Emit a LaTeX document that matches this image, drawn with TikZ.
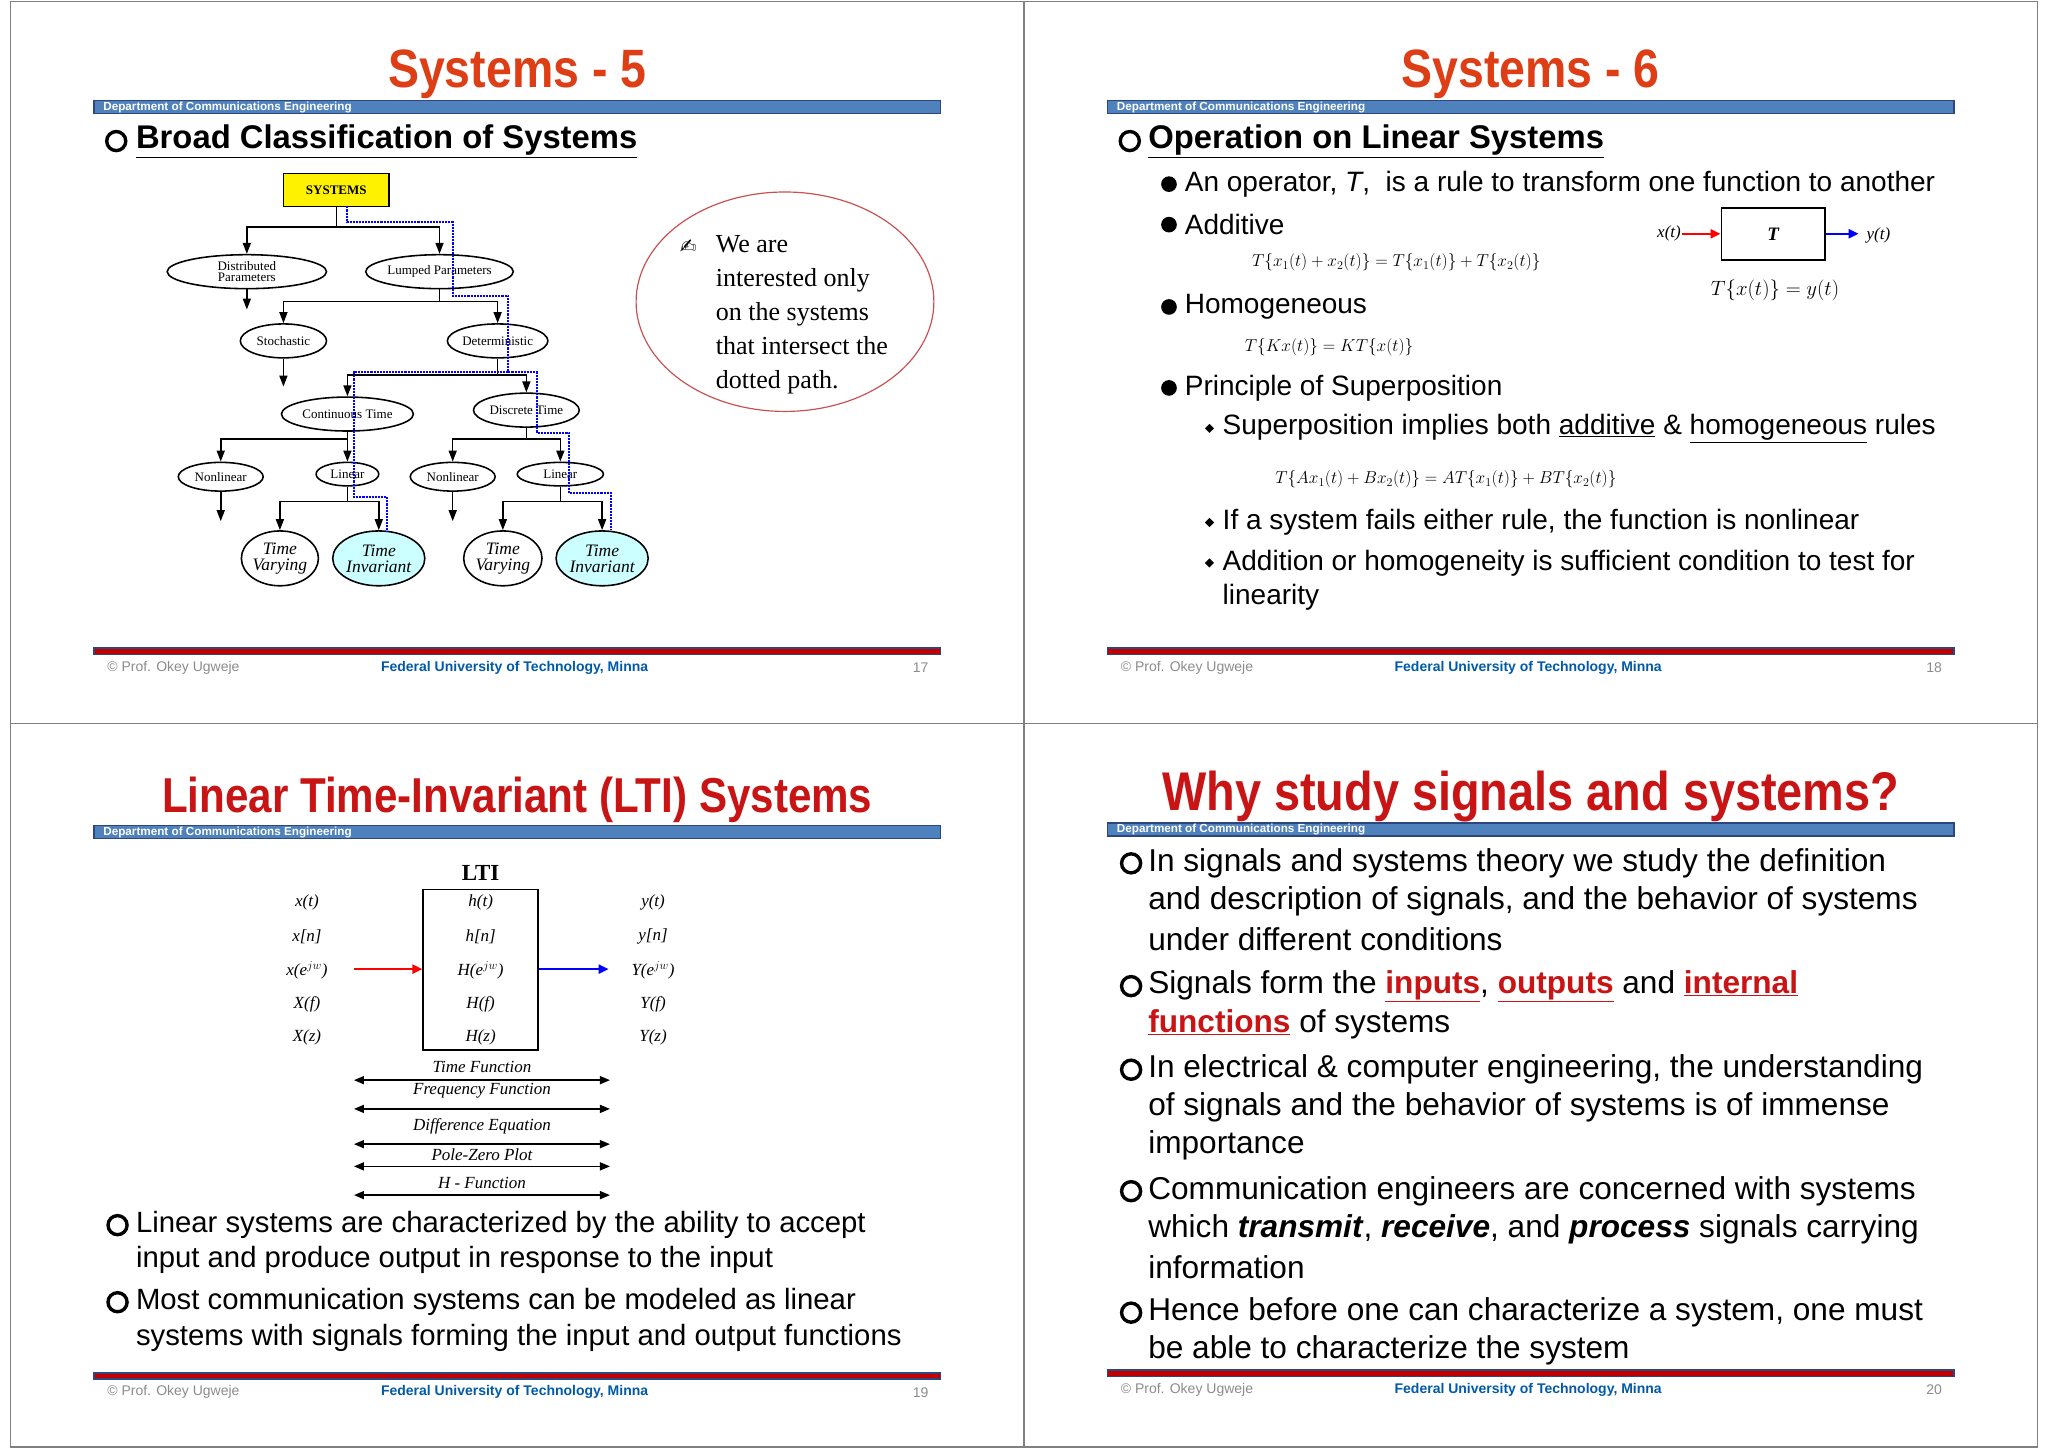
\documentclass[tikz,border=0pt]{standalone}
\usepackage{fontspec}
\setmainfont{Liberation Sans}
\newfontfamily\titlefont[FakeStretch=0.86]{Liberation Sans}
\newfontfamily\serf{Liberation Serif}
\newfontfamily\dvs{DejaVu Sans}
\usetikzlibrary{shapes.geometric,arrows.meta}
\newlength\px \setlength\px{1.306pt}
\definecolor{hdrblue}{RGB}{79,129,189}
\definecolor{hdrdark}{RGB}{45,70,125}
\definecolor{ftrred}{RGB}{192,0,0}
\definecolor{torange}{RGB}{222,62,22}
\definecolor{tred}{RGB}{200,20,20}
\definecolor{fgray}{RGB}{140,140,140}
\definecolor{fblue}{RGB}{0,90,170}
\definecolor{cyanfill}{RGB}{204,255,255}
\definecolor{callout}{RGB}{200,80,80}
\tikzset{
  tx/.style={inner sep=0pt,anchor=west},
  titlef/.style={inner sep=0pt,font=\titlefont\bfseries\fontsize{#1}{60pt}\selectfont},
  body/.style={tx,font=\fontsize{28pt}{32pt}\selectfont},
  big/.style={tx,font=\fontsize{31.6pt}{38pt}\selectfont},
  mid/.style={tx,font=\fontsize{29.3pt}{34pt}\selectfont},
  head/.style={tx,font=\bfseries\fontsize{32.8pt}{40pt}\selectfont},
  ell/.style={ellipse,draw,line width=1.2\px,inner sep=0pt,font=\serf\fontsize{13pt}{14pt}\selectfont,align=center},
  ell2/.style={ellipse,draw,line width=1.2\px,inner sep=0pt,font=\serf\itshape\fontsize{17.5pt}{19pt}\selectfont,align=center},
  ln/.style={line width=1.2\px},
  arr/.style={line width=1.2\px,-{Triangle[length=11pt,width=8pt]}},
  dots/.style={blue,densely dotted,line width=1.6\px},
  lti/.style={inner sep=0pt,font=\serf\itshape\fontsize{17pt}{19pt}\selectfont},
  dbl/.style={line width=1.2\px,{Triangle[length=10pt,width=8pt]}-{Triangle[length=10pt,width=8pt]}},
}
\newcommand\hbul[2]{\draw[line width=2.6\px] (#1,#2) circle (7.3\px);}
\newcommand\fbul[2]{\fill (#1,#2) circle (6\px);}
\newcommand\dbul[2]{\fill (#1-3.5,#2) -- (#1,#2-3.5) -- (#1+3.5,#2) -- (#1,#2+3.5) -- cycle;}
\newcommand\slidebase[6]{%
\begin{scope}[shift={(#1,#2)}]
\node[titlef=#6,text=#4] (title#5) at (396,57) {#3};
\draw[fill=hdrblue,draw=hdrdark,line width=1\px] (72,77) rectangle (720,87);
\node[tx,text=white,font=\bfseries\fontsize{11.7pt}{12pt}\selectfont] (dept#5) at (79,82.3) {Department of Communications Engineering};
\draw[fill=ftrred,draw=hdrdark,line width=1.2\px] (72,496) rectangle (720,501);
\node[tx,text=fgray,font=\fontsize{14pt}{15pt}\selectfont] (prof#5) at (82,511) {© Prof. Okey Ugweje};
\node[inner sep=0pt,text=fblue,font=\bfseries\fontsize{14pt}{15pt}\selectfont] (fut#5) at (394,511) {Federal University of Technology, Minna};
\node[inner sep=0pt,anchor=east,text=fgray,font=\fontsize{14pt}{15pt}\selectfont] (pg#5) at (711,511) {#5};
\end{scope}}
\begin{document}
\begin{tikzpicture}[x=1.306pt,y=-1.306pt]
\useasboundingbox (0,0) rectangle (1568,1110);
\fill[white] (0,0) rectangle (1568,1110);
\draw[gray,line width=1.2\px] (8,1) rectangle (1560,1108);
\draw[gray,line width=1.2\px] (784,1) -- (784,1108);
\draw[gray,line width=1.2\px] (8,554) -- (1560,554);
\slidebase{0}{0}{Systems - 5}{torange}{17}{54pt}
\slidebase{776}{0}{Systems - 6}{torange}{18}{54pt}
\slidebase{0}{555}{Linear Time-Invariant (LTI) Systems}{tred}{19}{49pt}
\slidebase{776}{553}{Why study signals and systems?}{tred}{20}{54.5pt}

% ---------- Slide 17 ----------
\hbul{89}{108}
\node[head] (h17) at (104,108) {\underline{Broad Classification of Systems}};
\node[draw,fill=yellow,line width=1.2\px,minimum width=81\px,minimum height=25\px,inner sep=0pt,font=\serf\bfseries\fontsize{13pt}{14pt}\selectfont] (sys) at (257.5,145.5) {SYSTEMS};
\node[ell,minimum width=122\px,minimum height=26\px] (dist) at (189,208) {Distributed\\[-3pt]Parameters};
\node[ell,minimum width=109\px,minimum height=26\px] (lump) at (336.5,208) {Lumped Parameters};
\node[ell,minimum width=66\px,minimum height=26\px] (stoc) at (217,261) {Stochastic};
\node[ell,minimum width=77\px,minimum height=26\px] (det) at (381,261) {Deterministic};
\node[ell,minimum width=101\px,minimum height=26\px] (cont) at (266,317) {Continuous Time};
\node[ell,minimum width=81\px,minimum height=26\px] (disc) at (403,314) {Discrete Time};
\node[ell,minimum width=65\px,minimum height=22\px] (nl1) at (169,365) {Nonlinear};
\node[ell,minimum width=48\px,minimum height=18\px] (li1) at (266,363) {Linear};
\node[ell,minimum width=65\px,minimum height=22\px] (nl2) at (346.6,365) {Nonlinear};
\node[ell,minimum width=66\px,minimum height=18\px] (li2) at (429,363) {Linear};
\node[ell2,minimum width=59\px,minimum height=42\px] (tv1) at (214.3,427.5) {Time\\[-3pt]Varying};
\node[ell2,fill=cyanfill,minimum width=66\px,minimum height=42\px] (ti1) at (290,427.5) {Time\\[-3pt]Invariant};
\node[ell2,minimum width=60\px,minimum height=42\px] (tv2) at (385,427.5) {Time\\[-3pt]Varying};
\node[ell2,fill=cyanfill,minimum width=67\px,minimum height=42\px] (ti2) at (461,427.5) {Time\\[-3pt]Invariant};
\coordinate (j1) at (257.5,174);
\draw[ln] (sys.south) -- (j1);
\draw[arr] (j1) -| (dist.north);
\draw[arr] (j1) -| (lump.north);
\coordinate (e1) at (189,237);
\draw[arr] (dist.south) -- (e1);
\coordinate (j2) at (336.5,231);
\draw[ln] (lump.south) -- (j2);
\draw[arr] (j2) -| (stoc.north);
\draw[arr] (j2) -| (det.north);
\coordinate (e2) at (217,296);
\draw[arr] (stoc.south) -- (e2);
\coordinate (j3) at (381,287);
\draw[ln] (det.south) -- (j3);
\draw[arr] (j3) -| (cont.north);
\draw[arr] (j3) -| (disc.north);
\coordinate (j4) at (266,336);
\draw[ln] (cont.south) -- (j4);
\draw[arr] (j4) -| (nl1.north);
\draw[arr] (j4) -- (li1.north);
\coordinate (j5) at (403,336);
\draw[ln] (disc.south) -- (j5);
\draw[arr] (j5) -| (nl2.north);
\draw[arr] (j5) -| (li2.north);
\coordinate (e3) at (169,399);
\coordinate (e4) at (346.6,399);
\draw[arr] (nl1.south) -- (e3);
\draw[arr] (nl2.south) -- (e4);
\coordinate (j6) at (266,384);
\draw[ln] (li1.south) -- (j6);
\draw[arr] (j6) -| (tv1.north);
\draw[arr] (j6) -| (ti1.north);
\coordinate (j7) at (429,384);
\draw[ln] (li2.south) -- (j7);
\draw[arr] (j7) -| (tv2.north);
\draw[arr] (j7) -| (ti2.north);
\draw[dots] (265.4,158) -- (265.4,170) -- (346.6,170) -- (346.6,226.4) -- (389.2,226.4) -- (389.2,285.1) -- (271,285.1) -- (271,380.3) -- (296,380.3) -- (296,407);
\draw[dots] (389.2,285.1) -- (411,285.1) -- (411,331.3) -- (435.7,331.3) -- (435.7,377.8) -- (467.9,377.8) -- (467.9,406);
\node[ellipse,draw=callout,line width=0.9\px,minimum width=228\px,minimum height=168\px] (call) at (601,231) {};
\node[inner sep=0pt,font=\dvs\fontsize{20pt}{24pt}\selectfont] (pen) at (527,189) {✍};
\node[tx,anchor=north west,align=left,font=\serf\fontsize{26pt}{34pt}\selectfont] (calltxt) at (548,180) {We are\\interested only\\on the systems\\that intersect the\\dotted path.};

% ---------- Slide 18 ----------
\hbul{865}{108}
\node[head] (h18) at (879,108) {\underline{Operation on Linear Systems}};
\fbul{895}{141}\node[body] (b1) at (907,141) {An operator, \textit{T},\ \ is a rule to transform one function to another};
\fbul{895}{172}\node[body] (b2) at (907,172) {Additive};
\node[inner sep=0pt,font=\fontsize{18.5pt}{22pt}\selectfont] (eq1) at (1069,201) {$T\{x_1(t)+x_2(t)\}=T\{x_1(t)\}+T\{x_2(t)\}$};
\fbul{895}{235}\node[body] (b3) at (907,235) {Homogeneous};
\node[tx,font=\fontsize{18.5pt}{22pt}\selectfont] (eq2) at (953,266) {$T\{Kx(t)\}=KT\{x(t)\}$};
\fbul{895}{297}\node[body] (b4) at (907,297) {Principle of Superposition};
\dbul{926}{328}\node[body] (b5) at (936,328) {Superposition implies both \underline{additive} \& \underline{homogeneous} rules};
\node[inner sep=0pt,font=\fontsize{18.5pt}{22pt}\selectfont] (eq3) at (1107,367) {$T\{Ax_1(t)+Bx_2(t)\}=AT\{x_1(t)\}+BT\{x_2(t)\}$};
\dbul{926}{400}\node[body] (b6) at (936,400) {If a system fails either rule, the function is nonlinear};
\dbul{926}{431}\node[body] (b7) at (936,431) {Addition or homogeneity is sufficient condition to test for};
\node[body] (b8) at (936,457) {linearity};
\node[draw,line width=1.5\px,minimum width=79\px,minimum height=40\px,inner sep=0pt,font=\serf\bfseries\itshape\fontsize{19pt}{20pt}\selectfont] (tbox) at (1357.5,179) {T};
\node[inner sep=0pt,anchor=east,font=\serf\itshape\fontsize{17pt}{19pt}\selectfont] (xt) at (1287,179) {x(t)};
\node[inner sep=0pt,anchor=west,font=\serf\itshape\fontsize{17pt}{19pt}\selectfont] (yt) at (1429,180) {y(t)};
\draw[red,line width=1.8\px,-{Triangle[length=10pt,width=9pt]}] (xt.east) ++(1,0) -- (tbox.west);
\coordinate (yin) at (1423,179);
\draw[blue,line width=1.8\px,-{Triangle[length=10pt,width=9pt]}] (tbox.east) -- (yin);
\node[inner sep=0pt,font=\fontsize{20pt}{24pt}\selectfont] (eq4) at (1359,222) {$T\{x(t)\}=y(t)$};

% ---------- Slide 19 ----------
\node[inner sep=0pt,font=\serf\bfseries\fontsize{23pt}{25pt}\selectfont] (ltit) at (368,668) {LTI};
\node[draw,line width=1.3\px,minimum width=88\px,minimum height=123\px,inner sep=0pt] (lbox) at (368,742.5) {};
\foreach \yy/\l/\m/\r [count=\i] in {691/x(t)/h(t)/y(t),717/x[n]/h[n]/y[n],743/x(e$^{jw}$)/H(e$^{jw}$)/Y(e$^{jw}$),769/X(f)/H(f)/Y(f),794/X(z)/H(z)/Y(z)}{
  \node[lti] (L\i) at (235,\yy) {\l};
  \node[lti] (M\i) at (368,\yy) {\m};
  \node[lti] (R\i) at (500,\yy) {\r};
}
\coordinate (rin) at (271,742);
\coordinate (bout) at (466,742);
\draw[red,line width=1.8\px,-{Triangle[length=10pt,width=9pt]}] (rin) -- (lbox.west|-rin);
\draw[blue,line width=1.8\px,-{Triangle[length=10pt,width=9pt]}] (lbox.east|-bout) -- (bout);
\foreach \ly/\ay/\t [count=\i] in {817/827/Time Function,835/849/Frequency Function,862/876/Difference Equation,884/893/Pole-Zero Plot,906/915/H - Function}{
  \node[lti] (F\i) at (369,\ly) {\t};
  \coordinate (FA\i) at (271,\ay);
  \coordinate (FB\i) at (467,\ay);
  \draw[dbl] (FA\i) -- (FB\i);
}
\hbul{90}{938}
\node[mid] (c1) at (104,938) {Linear systems are characterized by the ability to accept};
\node[mid] (c2) at (104,965) {input and produce output in response to the input};
\hbul{90}{997}
\node[mid] (c3) at (104,997) {Most communication systems can be modeled as linear};
\node[mid] (c4) at (104,1024) {systems with signals forming the input and output functions};

% ---------- Slide 20 ----------
\newcommand\rl[1]{\textcolor{tred}{\textbf{\underline{#1}}}}
\hbul{866}{661}
\node[big] (d1) at (879,661) {In signals and systems theory we study the definition};
\node[big] (d2) at (879,690) {and description of signals, and the behavior of systems};
\node[big] (d3) at (879,719) {under different conditions};
\hbul{866}{755}
\node[big] (d4) at (879,755) {Signals form the \rl{inputs}, \rl{outputs} and \rl{internal}};
\node[big] (d5) at (879,784) {\rl{functions} of systems};
\hbul{866}{819}
\node[big] (d6) at (879,819) {In electrical \& computer engineering, the understanding};
\node[big] (d7) at (879,848) {of signals and the behavior of systems is of immense};
\node[big] (d8) at (879,877) {importance};
\hbul{866}{912}
\node[big] (d9) at (879,912) {Communication engineers are concerned with systems};
\node[big] (d10) at (879,941) {which \textbf{\textit{transmit}}, \textbf{\textit{receive}}, and \textbf{\textit{process}} signals carrying};
\node[big] (d11) at (879,970) {information};
\hbul{866}{1005}
\node[big] (d12) at (879,1005) {Hence before one can characterize a system, one must};
\node[big] (d13) at (879,1034) {be able to characterize the system};
\end{tikzpicture}
\end{document}
